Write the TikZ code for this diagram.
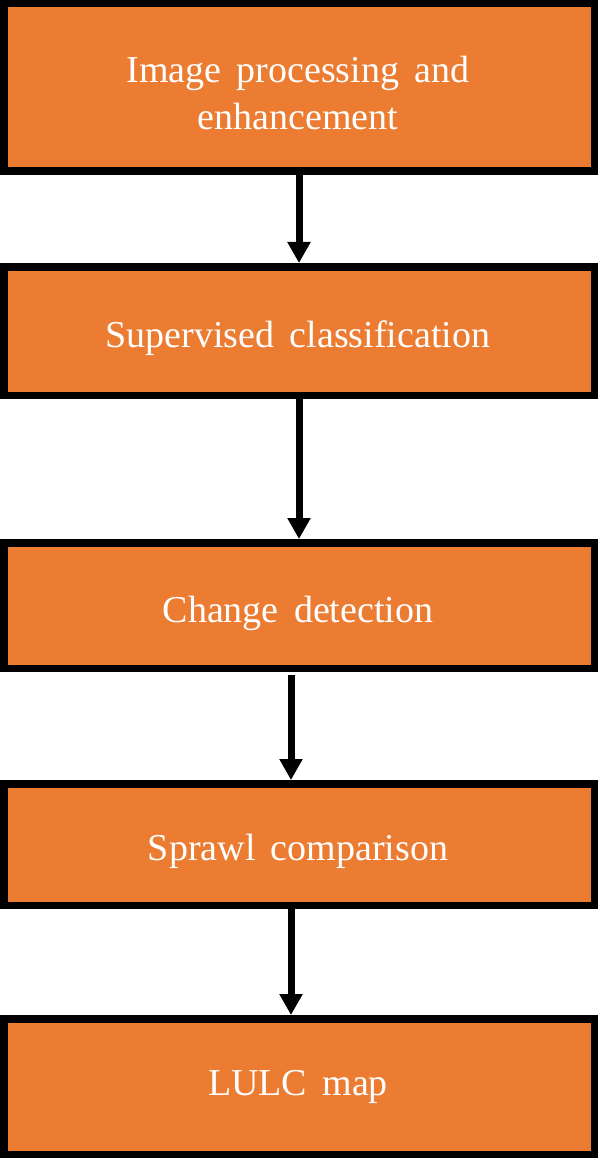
\documentclass[tikz,border=0pt]{standalone}
\usepackage{fontspec}
\setmainfont{Liberation Serif}[WordSpace=1.6]
\usetikzlibrary{arrows.meta}
\definecolor{boxorange}{RGB}{235,124,50}
\begin{document}
\begin{tikzpicture}[x=1pt,y=-1pt,
  stepbox/.style={draw=black,fill=boxorange,line width=7.5pt,inner sep=0pt,
    minimum width=590.5pt,anchor=center},
  steptext/.style={text=white,font=\fontsize{38}{46}\selectfont,anchor=base,inner sep=0pt},
  flow/.style={line width=7pt,-{Triangle[width=22pt,length=21pt]}}]
\useasboundingbox (0,0) rectangle (598,1158);
\node[stepbox,minimum height=167.5pt] (b1) at (299,87.5) {};
\node[stepbox,minimum height=128.5pt] (b2) at (299,331) {};
\node[stepbox,minimum height=125.5pt] (b3) at (299,605.5) {};
\node[stepbox,minimum height=121.5pt] (b4) at (299,844.5) {};
\node[stepbox,minimum height=135.5pt] (b5) at (299,1086.5) {};
\node[steptext] (t1a) at (298,83) {Image processing and};
\node[steptext] (t1b) at (298,130) {enhancement};
\node[steptext] (t2) at (298,347) {Supervised classification};
\node[steptext] (t3) at (298,622) {Change detection};
\node[steptext] (t4) at (298,860) {Sprawl comparison};
\node[steptext] (t5) at (298,1095) {LULC map};
\draw[flow] (b1.south) -- (b2.north);
\draw[flow] (b2.south) -- (b3.north);
\draw[flow,shorten <=3pt] ([xshift=-8pt]b3.south) -- ([xshift=-8pt]b4.north);
\draw[flow] ([xshift=-8pt]b4.south) -- ([xshift=-8pt]b5.north);
\end{tikzpicture}
\end{document}
